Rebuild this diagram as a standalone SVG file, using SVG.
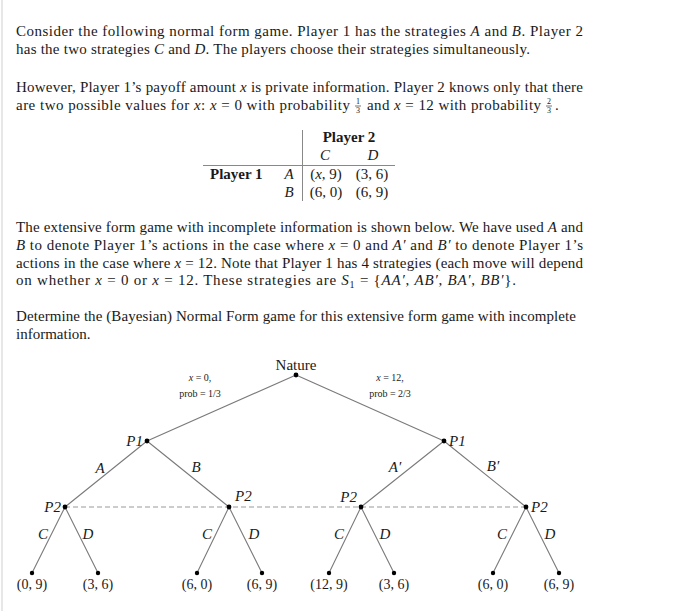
<svg xmlns="http://www.w3.org/2000/svg" width="700" height="611" viewBox="0 0 700 611">
<style>
.t{font-family:"Liberation Serif","DejaVu Serif",serif;font-size:15px;fill:#1a1a1a}
.i{font-style:italic}
.b{font-weight:bold}
.s{font-size:10px}
.lf{font-size:14px}
.c{text-anchor:middle}
.e{text-anchor:end}
.edge{stroke:#7a7a7a;stroke-width:1.1;fill:none}
.info{stroke:#999;stroke-width:1.1;stroke-dasharray:5 3;fill:none}
.rule{stroke:#888;stroke-width:1}
.dot{fill:#000}
.fr{font-size:8px}
</style>
<rect width="700" height="611" fill="#fff"/>
<line x1="2" y1="0" x2="2" y2="611" stroke="#cfcfcf" stroke-width="1"/>

<g id="text-paragraphs">
<text class="t" x="16" y="36" textLength="567">Consider the following normal form game. Player 1 has the strategies <tspan class="i">A</tspan> and <tspan class="i">B</tspan>. Player 2</text>
<text class="t" x="16" y="54" textLength="514">has the two strategies <tspan class="i">C</tspan> and <tspan class="i">D</tspan>. The players choose their strategies simultaneously.</text>
<text class="t" x="16" y="92" textLength="567">However, Player 1’s payoff amount <tspan class="i">x</tspan> is private information. Player 2 knows only that there</text>
<text class="t" x="16" y="110" textLength="334">are two possible values for <tspan class="i">x</tspan>: <tspan class="i">x</tspan> = 0 with probability</text>
<text class="t" x="367" y="110" textLength="174">and <tspan class="i">x</tspan> = 12 with probability</text>
<text class="t" x="555" y="110">.</text>
<g id="frac1">
<text class="t c fr" x="358" y="104">1</text>
<line x1="355" y1="106" x2="361" y2="106" stroke="#1a1a1a" stroke-width="0.6"/>
<text class="t c fr" x="358" y="113">3</text>
</g>
<g id="frac2">
<text class="t c fr" x="549" y="104">2</text>
<line x1="546" y1="106" x2="552" y2="106" stroke="#1a1a1a" stroke-width="0.6"/>
<text class="t c fr" x="549" y="113">3</text>
</g>

<text class="t" x="16" y="232" textLength="567">The extensive form game with incomplete information is shown below. We have used <tspan class="i">A</tspan> and</text>
<text class="t" x="16" y="250" textLength="567"><tspan class="i">B</tspan> to denote Player 1’s actions in the case where <tspan class="i">x</tspan> = 0 and <tspan class="i">A′</tspan> and <tspan class="i">B′</tspan> to denote Player 1’s</text>
<text class="t" x="16" y="268" textLength="567">actions in the case where <tspan class="i">x</tspan> = 12. Note that Player 1 has 4 strategies (each move will depend</text>
<text class="t" x="16" y="285" textLength="500">on whether <tspan class="i">x</tspan> = 0 or <tspan class="i">x</tspan> = 12. These strategies are <tspan class="i">S</tspan><tspan style="font-size:10px" dy="3">1</tspan><tspan dy="-3"> = {</tspan><tspan class="i">AA′</tspan>, <tspan class="i">AB′</tspan>, <tspan class="i">BA′</tspan>, <tspan class="i">BB′</tspan>}.</text>

<text class="t" x="16" y="321" textLength="560">Determine the (Bayesian) Normal Form game for this extensive form game with incomplete</text>
<text class="t" x="16" y="339">information.</text>
</g>

<g id="payoff-table">
<line class="rule" x1="302.5" y1="130" x2="302.5" y2="201"/>
<line class="rule" x1="203" y1="165.5" x2="395" y2="165.5"/>
<text class="t b c" x="349" y="142">Player 2</text>
<text class="t i c" x="325" y="160">C</text>
<text class="t i c" x="373" y="160">D</text>
<text class="t b" x="210" y="179">Player 1</text>
<text class="t i c" x="289" y="179">A</text>
<text class="t c" x="326" y="179">(<tspan class="i">x</tspan>, 9)</text>
<text class="t c" x="372" y="179">(3, 6)</text>
<text class="t i c" x="289" y="197">B</text>
<text class="t c" x="326" y="197">(6, 0)</text>
<text class="t c" x="372" y="197">(6, 9)</text>
</g>

<g id="connectors">
<path class="edge" d="M296 375 L147 441 M296 375 L444 441"/>
<path class="edge" d="M147 441 L65 507 M147 441 L229 507 M444 441 L361 507 M444 441 L526 507"/>
<path class="edge" d="M65 507 L32 573 M65 507 L98 573 M229 507 L197 573 M229 507 L262 573 M361 507 L329 573 M361 507 L394 573 M526 507 L493 573 M526 507 L559 573"/>
<line class="info" x1="65" y1="507" x2="526" y2="507"/>
</g>

<g id="edge-labels">
<text class="t s c" x="200" y="381"><tspan class="i">x</tspan> = 0,</text>
<text class="t s c" x="200" y="397">prob = 1/3</text>
<text class="t s c" x="390" y="381"><tspan class="i">x</tspan> = 12,</text>
<text class="t s c" x="390" y="397">prob = 2/3</text>
<text class="t i c" x="100" y="473">A</text>
<text class="t i c" x="196" y="472">B</text>
<text class="t i c" x="395" y="472">A′</text>
<text class="t i c" x="493" y="471">B′</text>
<text class="t i c" x="43" y="539">C</text>
<text class="t i c" x="88" y="539">D</text>
<text class="t i c" x="207" y="539">C</text>
<text class="t i c" x="254" y="539">D</text>
<text class="t i c" x="339" y="539">C</text>
<text class="t i c" x="385" y="539">D</text>
<text class="t i c" x="502" y="539">C</text>
<text class="t i c" x="550" y="539">D</text>
</g>

<g id="nature">
<circle class="dot" cx="296" cy="375" r="2.4"/>
<text class="t c" x="296" y="370">Nature</text>
</g>
<g id="p1-left">
<circle class="dot" cx="147" cy="441" r="2.4"/>
<text class="t i e" x="143" y="446">P1</text>
</g>
<g id="p1-right">
<circle class="dot" cx="444" cy="441" r="2.4"/>
<text class="t i" x="449" y="446">P1</text>
</g>
<g id="p2-1">
<circle class="dot" cx="65" cy="507" r="2.4"/>
<text class="t i e" x="61" y="512">P2</text>
</g>
<g id="p2-2">
<circle class="dot" cx="229" cy="507" r="2.4"/>
<text class="t i" x="235" y="501">P2</text>
</g>
<g id="p2-3">
<circle class="dot" cx="361" cy="507" r="2.4"/>
<text class="t i e" x="357" y="502">P2</text>
</g>
<g id="p2-4">
<circle class="dot" cx="526" cy="507" r="2.4"/>
<text class="t i" x="531" y="512">P2</text>
</g>

<g id="leaf-1"><circle class="dot" cx="32" cy="573" r="2.2"/><text class="t lf c" x="32" y="589">(0, 9)</text></g>
<g id="leaf-2"><circle class="dot" cx="98" cy="573" r="2.2"/><text class="t lf c" x="98" y="589">(3, 6)</text></g>
<g id="leaf-3"><circle class="dot" cx="197" cy="573" r="2.2"/><text class="t lf c" x="197" y="589">(6, 0)</text></g>
<g id="leaf-4"><circle class="dot" cx="262" cy="573" r="2.2"/><text class="t lf c" x="262" y="589">(6, 9)</text></g>
<g id="leaf-5"><circle class="dot" cx="329" cy="573" r="2.2"/><text class="t lf c" x="329" y="589">(12, 9)</text></g>
<g id="leaf-6"><circle class="dot" cx="394" cy="573" r="2.2"/><text class="t lf c" x="394" y="589">(3, 6)</text></g>
<g id="leaf-7"><circle class="dot" cx="493" cy="573" r="2.2"/><text class="t lf c" x="493" y="589">(6, 0)</text></g>
<g id="leaf-8"><circle class="dot" cx="559" cy="573" r="2.2"/><text class="t lf c" x="559" y="589">(6, 9)</text></g>
</svg>
